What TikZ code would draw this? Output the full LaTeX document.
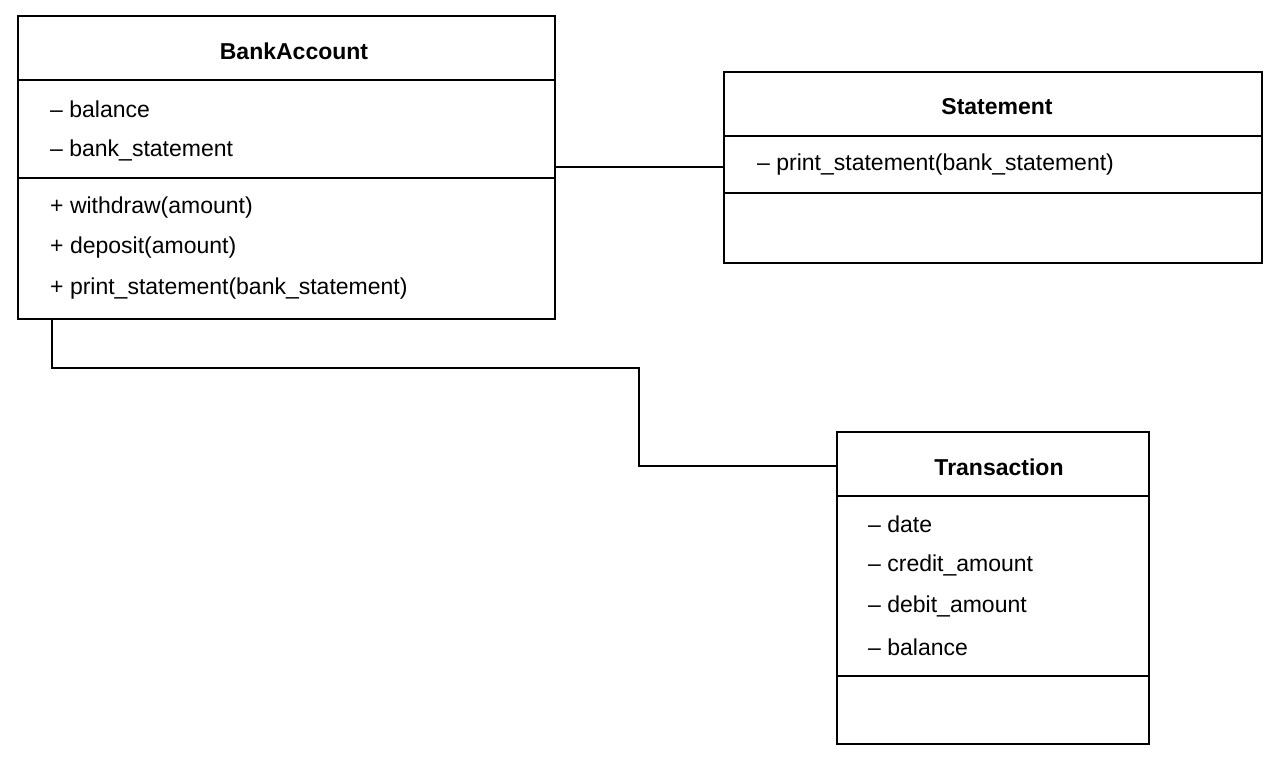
\documentclass[tikz,border=0pt]{standalone}
\usepackage{fontspec}
\setmainfont{Liberation Sans}
\usetikzlibrary{calc}

\tikzset{
  box/.style={draw, line width=1.3pt, inner sep=0pt},
  member/.style={anchor=west, inner sep=0pt, font=\fontsize{23}{26}\selectfont},
  title/.style={inner sep=0pt, font=\fontsize{23}{26}\selectfont\bfseries},
  link/.style={line width=1.6pt}
}

\begin{document}
\begin{tikzpicture}[x=1pt, y=-1pt]
  \useasboundingbox (0,0) rectangle (1280,779);
  % BankAccount
  \draw[box] (18,16) rectangle (555,319);
  \coordinate (bankNE) at (555,167);
  \coordinate (bankS) at (52,319);
  \draw[box] (18,80) -- (555,80);
  \draw[box] (18,178) -- (555,178);
  \node[title] (bank) at (294,51) {BankAccount};
  \node[member] (bank1) at (50,109) {– balance};
  \node[member] (bank2) at (50,150) {– bank\_statement};
  \node[member] (bank3) at (50,208) {+ withdraw(amount)};
  \node[member] (bank4) at (50,248) {+ deposit(amount)};
  \node[member] (bank5) at (50,289) {+ print\_statement(bank\_statement)};
  % Statement
  \draw[box] (724,72) rectangle (1262,263);
  \coordinate (stmtW) at (724,167);
  \draw[box] (724,136) -- (1262,136);
  \draw[box] (724,193) -- (1262,193);
  \node[title] (stmt) at (997,107) {Statement};
  \node[member] (stmt1) at (757,165) {– print\_statement(bank\_statement)};
  % Transaction
  \draw[box] (837,432) rectangle (1149,744);
  \coordinate (transW) at (837,466);
  \draw[box] (837,496) -- (1149,496);
  \draw[box] (837,676) -- (1149,676);
  \node[title] (trans) at (999,467) {Transaction};
  \foreach \t [count=\i] in {date, credit\_amount, debit\_amount, balance}
    \node[member] (trans\i) at (868,484+40.7*\i) {– \t};
  % links
  \draw[link] (bankNE) -- (stmtW);
  \draw[link] (bankS) |- (639,368) |- (transW);
\end{tikzpicture}
\end{document}
